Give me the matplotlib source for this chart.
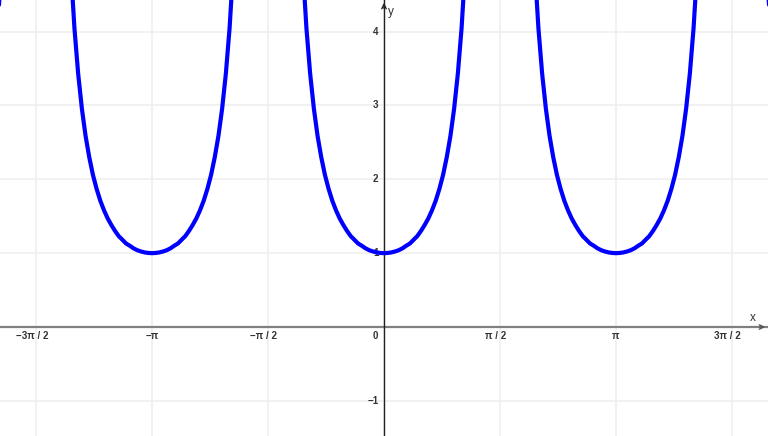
import numpy as np
import matplotlib.pyplot as plt

# ---- data ----
# one U-shaped branch: horizontal offset from its bottom point (x units) and height y
branch_dx = [-1.16, -1.15, -1.10, -1.05, -1.00, -0.95, -0.90, -0.85, -0.80, -0.75, -0.70,
             -0.65, -0.60, -0.55, -0.50, -0.45, -0.40, -0.35, -0.30, -0.25, -0.20,
             -0.15, -0.10, -0.05, 0.00,
             0.05, 0.10, 0.15, 0.20, 0.25, 0.30, 0.35, 0.40, 0.45, 0.50,
             0.55, 0.60, 0.65, 0.70, 0.75, 0.80, 0.85, 0.90, 0.95, 1.00,
             1.05, 1.10, 1.15, 1.16]
branch_y = [6.3, 6.0, 4.86, 4.04, 3.43, 2.96, 2.59, 2.30, 2.06, 1.87, 1.71,
            1.58, 1.47, 1.38, 1.30, 1.23, 1.18, 1.13, 1.10, 1.065, 1.04,
            1.023, 1.01, 1.0025, 1.00,
            1.0025, 1.01, 1.023, 1.04, 1.065, 1.10, 1.13, 1.18, 1.23, 1.30,
            1.38, 1.47, 1.58, 1.71, 1.87, 2.06, 2.30, 2.59, 2.96, 3.43,
            4.04, 4.86, 6.0, 6.3]
# bottoms of the branches, in multiples of pi
branch_centres = [-2, -1, 0, 1, 2]

x_tick_vals = [-1.5, -1.0, -0.5, 0.5, 1.0, 1.5]   # multiples of pi
x_tick_labels = ["\u22123\u03c0 / 2", "\u2212\u03c0", "\u2212\u03c0 / 2",
                 "\u03c0 / 2", "\u03c0", "3\u03c0 / 2"]
y_tick_vals = [-1, 1, 2, 3, 4]
y_tick_labels = ["\u22121", "1", "2", "3", "4"]

XMIN, XMAX = -5.2, 5.2
YMIN, YMAX = -1.476, 4.428

plt.rcParams['font.family'] = ['Liberation Sans', 'DejaVu Sans']

fig = plt.figure(figsize=(7.68, 4.36), dpi=100)
ax = fig.add_axes([0, 0, 1, 1])
ax.set_xlim(XMIN, XMAX)
ax.set_ylim(YMIN, YMAX)
for s in ax.spines.values():
    s.set_visible(False)
ax.set_xticks([])
ax.set_yticks([])

# grid
grid_c = '#efefef'
for k in np.arange(-3, 4):
    ax.axvline(k * np.pi / 2, color=grid_c, lw=1.2, zorder=0)
for k in range(-1, 5):
    ax.axhline(k, color=grid_c, lw=1.2, zorder=0)

# axes
ax.axhline(0, color='#808080', lw=1.6, zorder=2)
ax.axvline(0, color='#222222', lw=1.0, zorder=2)
ax.annotate('', xy=(XMAX, 0), xytext=(XMAX - 0.15, 0),
            arrowprops=dict(arrowstyle='->', color='#555555', lw=1.0,
                            mutation_scale=8), zorder=3)
ax.annotate('', xy=(0, YMAX), xytext=(0, YMAX - 0.15),
            arrowprops=dict(arrowstyle='->', color='#222222', lw=1.0,
                            mutation_scale=8), zorder=3)
ax.annotate('x', xy=(XMAX, 0), xytext=(-11, 2), textcoords='offset points',
            fontsize=8.5, color='#333333', ha='center', va='bottom')
ax.annotate('y', xy=(0, YMAX), xytext=(5, -4), textcoords='offset points',
            fontsize=8.5, color='#333333', ha='center', va='top')

# tick labels
lab_kw = dict(fontsize=7, fontweight='bold', color='#333333',
              textcoords='offset points')
for v, lab in zip(x_tick_vals, x_tick_labels):
    dx = -3 if '/' in lab else 0
    ax.annotate(lab, xy=(v * np.pi, 0), xytext=(dx, -6.5),
                ha='center', va='center', **lab_kw)
ax.annotate('0', xy=(0, 0), xytext=(-6, -6.5), ha='center', va='center', **lab_kw)
for v, lab in zip(y_tick_vals, y_tick_labels):
    ax.annotate(lab, xy=(0, v), xytext=(-4, 0), ha='right', va='center', **lab_kw)

# curve
dx = np.array(branch_dx)
yy = np.array(branch_y)
for c in branch_centres:
    ax.plot(c * np.pi + dx, yy, color='#0000ff', lw=3.0,
            solid_capstyle='round', solid_joinstyle='round', zorder=4)

fig.savefig('out.png', dpi=100)
